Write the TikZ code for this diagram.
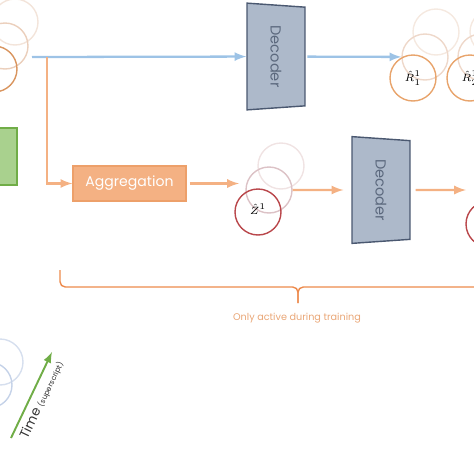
\documentclass[tikz,border=0pt]{standalone}
\usepackage[no-math]{fontspec}
\newfontfamily\popfont{Poppins}
\usetikzlibrary{shapes.geometric}

\definecolor{blueline}{HTML}{9DC3E6}
\definecolor{orangeline}{HTML}{F4B183}
\definecolor{aggdraw}{HTML}{EDA06A}
\definecolor{decfill}{HTML}{ADB9CA}
\definecolor{decdraw}{HTML}{4A5870}
\definecolor{encfill}{HTML}{A9D18E}
\definecolor{encdraw}{HTML}{70AD47}
\definecolor{infront}{HTML}{D9955F}
\definecolor{inmid}{HTML}{EBCFBC}
\definecolor{infaint}{HTML}{F3E4DA}
\definecolor{rfront}{HTML}{E8A46C}
\definecolor{rmid}{HTML}{EED8CA}
\definecolor{rfaint}{HTML}{F5E9E0}
\definecolor{zfront}{HTML}{B9474B}
\definecolor{zmid}{HTML}{DCC2C6}
\definecolor{zfaint}{HTML}{F0E3E3}
\definecolor{tmid}{HTML}{C5D2E8}
\definecolor{tfaint}{HTML}{D6DFEE}
\definecolor{bracecol}{HTML}{ED8A4C}
\definecolor{bracetext}{HTML}{E9A676}

\tikzset{
	decoder/.style={trapezium, rotate=-90, trapezium left angle=77,
			trapezium right angle=77, trapezium stretches=true,
			minimum width=2.14cm, minimum height=1.16cm, inner sep=0pt,
			draw=decdraw, fill=decfill, line width=0.8pt, text=decdraw!90,
			font=\popfont\fontsize{8.3}{9}\selectfont},
	ring/.style={circle, minimum size=0.92cm, inner sep=0pt,
			line width=0.8pt, draw=#1, font=\fontsize{6.5}{7}\selectfont},
	flow/.style={->, line width=1.3pt, #1},
}

\begin{document}
\begin{tikzpicture}[x=0.02cm, y=-0.02cm, >=latex]
	\useasboundingbox (0,0) rectangle (474,474);
	\clip (0,0) rectangle (474,474);

	% input stacks
	\foreach \n/\cx/\cy/\col in {inc/15/22/infaint, inb/5/46/inmid, ina/-6/69/infront,
			tb/0/362/tfaint, ta/-11/385/tmid}
		\node[ring=\col] (\n) at (\cx,\cy) {};
	\node[draw=encdraw, fill=encfill, line width=0.8pt, minimum width=1cm,
		minimum height=1.14cm] (enc) at (-8,156.5) {};

	% upper branch
	\coordinate (src) at (32,57);
	\coordinate (split) at (47,57);
	\node[decoder] (dec1) at (276,56.5) {Decoder};
	\foreach \n/\cx/\cy/\col in {r1c/436/32/rfaint, r1b/425/57/rmid,
			r2c/493/32/rfaint, r2b/481/57/rmid}
		\node[ring=\col] (\n) at (\cx,\cy) {};
	\node[ring=rfront] (r1a) at (413,78) {$\hat{R}^1_1$};
	\node[ring=rfront] (r2a) at (470,78) {$\hat{R}^1_2$};
	\draw[flow=blueline] (src) -- (dec1);
	\draw[flow=blueline, shorten <=1pt] (dec1) -- (r1b);

	% lower branch
	\node[draw=aggdraw, fill=orangeline, line width=0.8pt, minimum width=2.26cm,
		minimum height=0.7cm, text=white, font=\popfont\fontsize{8}{9}\selectfont]
		(agg) at (129.5,183.5) {Aggregation};
	\draw[flow=orangeline] (split) |- (agg);
	\foreach \n/\cx/\cy/\col in {zc/281/166/zfaint, zb/269/190/zmid}
		\node[ring=\col] (\n) at (\cx,\cy) {};
	\node[ring=zfront] (za) at (258,212) {\raisebox{3pt}{$\hat{Z}^1$}};
	\coordinate (aggend) at (239,183.5);
	\draw[flow=orangeline, shorten <=1.7pt] (agg) -- (aggend);
	\node[decoder] (dec2) at (381,190) {Decoder};
	\draw[flow=orangeline, shorten >=4.5pt] (zb) -- (dec2);
	\coordinate (outend) at (466,190);
	\draw[flow=orangeline, shorten <=2.8pt] (dec2) -- (outend);
	\node[ring=zfront] (zr) at (489,224) {};

	% training brace
	\coordinate (brl) at (60,270);
	\coordinate (brr) at (534,287);
	\coordinate (brtip) at (298,303);
	\draw[bracecol, line width=0.8pt, rounded corners=3pt] (brl) |- (brtip |- brr) -- (brtip);
	\draw[bracecol, line width=0.8pt, rounded corners=3pt] (brr) -- (brtip |- brr) -- (brtip);
	\node[text=bracetext, font=\popfont\fontsize{5.5}{6}\selectfont]
		(actlbl) at (297,318) {Only active during training};

	% time arrow
	\coordinate (tstart) at (11,438);
	\coordinate (tend) at (52,352);
	\draw[flow=encdraw, line width=1.1pt] (tstart) -- (tend)
		node[midway, below, sloped, text=black!80, inner sep=2.5pt,
			font=\popfont\fontsize{7.5}{8}\selectfont]
		(tlbl) {Time {\fontsize{4.2}{5}\selectfont (superscript)}};
\end{tikzpicture}
\end{document}
